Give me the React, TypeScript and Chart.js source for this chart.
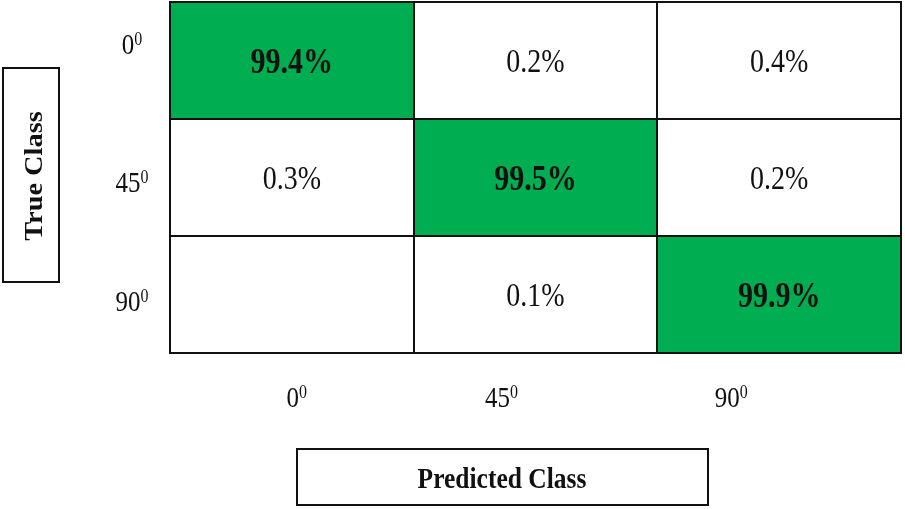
import React, { useEffect, useRef } from 'react';
import { Chart, registerables } from 'chart.js';

Chart.register(...registerables);

// ---- data ----
const predictedClasses = ['0', '45', '90'];
const trueClasses = ['0', '45', '90'];
const row0 = [99.4, 0.2, 0.4];
const row1 = [0.3, 99.5, 0.2];
const row2: (number | null)[] = [null, 0.1, 99.9];
const matrix = [row0, row1, row2];
const xTitle = 'Predicted Class';
const yTitle = 'True Class';

// ---- style ----
const GREEN = '#00AD50';
const INK = '#111111';
const SERIF = '"Liberation Serif", "Times New Roman", serif';
const VSTRETCH = 1.17;
const yLabelNudge = [-7, 14, 16];
const xLabelNudge = [5, -34, -48];

function drawDeg(ctx: CanvasRenderingContext2D, main: string, cx: number, baseline: number) {
  const size = 25;
  const sup = 16;
  ctx.save();
  ctx.translate(cx, baseline);
  ctx.scale(1, VSTRETCH);
  ctx.textBaseline = 'alphabetic';
  ctx.textAlign = 'left';
  ctx.font = `${size}px ${SERIF}`;
  const w1 = ctx.measureText(main).width;
  ctx.font = `${sup}px ${SERIF}`;
  const w2 = ctx.measureText('0').width;
  const start = -(w1 + w2) / 2;
  ctx.font = `${size}px ${SERIF}`;
  ctx.fillText(main, start, 0);
  ctx.font = `${sup}px ${SERIF}`;
  ctx.fillText('0', start + w1, -7.5);
  ctx.restore();
}

const textPlugin = {
  id: 'cmText',
  afterDatasetsDraw(chart: any) {
    const ctx: CanvasRenderingContext2D = chart.ctx;
    const xs = chart.scales.x;
    const ys = chart.scales.y;
    const area = chart.chartArea;
    ctx.save();
    ctx.fillStyle = INK;
    ctx.strokeStyle = INK;
    ctx.lineWidth = 2;

    // cell grid lines
    for (let c = 1; c < predictedClasses.length; c++) {
      const x = Math.round((xs.getPixelForValue(c - 1) + xs.getPixelForValue(c)) / 2);
      ctx.beginPath();
      ctx.moveTo(x, area.top);
      ctx.lineTo(x, area.bottom);
      ctx.stroke();
    }
    for (let r = 1; r < trueClasses.length; r++) {
      const y = Math.round(ys.getPixelForValue(r));
      ctx.beginPath();
      ctx.moveTo(area.left, y);
      ctx.lineTo(area.right, y);
      ctx.stroke();
    }
    // outer frame
    ctx.strokeRect(area.left, area.top, area.right - area.left, area.bottom - area.top);

    // cell values
    matrix.forEach((row, r) => {
      row.forEach((v, c) => {
        if (v === null || v === undefined) return;
        const x = xs.getPixelForValue(c);
        const y = (ys.getPixelForValue(r) + ys.getPixelForValue(r + 1)) / 2 + 3;
        ctx.save();
        ctx.translate(x, y);
        ctx.scale(1, VSTRETCH);
        ctx.textAlign = 'center';
        ctx.textBaseline = 'middle';
        ctx.font = r === c ? `bold 30px ${SERIF}` : `28px ${SERIF}`;
        ctx.fillText(`${v.toFixed(1)}%`, 0, 0);
        ctx.restore();
      });
    });

    // y tick labels
    trueClasses.forEach((lab, r) => {
      const cy = (ys.getPixelForValue(r) + ys.getPixelForValue(r + 1)) / 2;
      drawDeg(ctx, lab, 132, cy + yLabelNudge[r]);
    });
    // x tick labels
    predictedClasses.forEach((lab, c) => {
      const cx = xs.getPixelForValue(c);
      drawDeg(ctx, lab, cx + xLabelNudge[c], area.bottom + 54);
    });

    // Predicted Class box
    ctx.lineWidth = 2;
    ctx.strokeRect(297, 449, 411, 56);
    ctx.save();
    ctx.translate(502, 488);
    ctx.scale(1, VSTRETCH);
    ctx.textAlign = 'center';
    ctx.textBaseline = 'alphabetic';
    ctx.font = `bold 25.5px ${SERIF}`;
    ctx.fillText(xTitle, 0, 0);
    ctx.restore();

    // True Class box
    ctx.strokeRect(3, 68, 56, 214);
    ctx.save();
    ctx.translate(42, 176);
    ctx.rotate(-Math.PI / 2);
    ctx.scale(1.09, 1);
    ctx.textAlign = 'center';
    ctx.textBaseline = 'alphabetic';
    ctx.font = `bold 26px ${SERIF}`;
    ctx.fillText(yTitle, 0, 0);
    ctx.restore();

    ctx.restore();
  },
};

export default function App() {
  const ref = useRef<HTMLCanvasElement | null>(null);
  useEffect(() => {
    if (!ref.current) return;
    const datasets = trueClasses.map((_, r) => ({
      label: trueClasses[r],
      data: predictedClasses.map(() => [r, r + 1] as [number, number]),
      backgroundColor: predictedClasses.map((_, c) => (c === r ? GREEN : '#ffffff')),
      borderWidth: 0,
      grouped: false,
      categoryPercentage: 1,
      barPercentage: 1,
    }));
    const chart = new Chart(ref.current, {
      type: 'bar',
      data: { labels: predictedClasses, datasets: datasets as any },
      options: {
        animation: false,
        responsive: false,
        devicePixelRatio: 1,
        layout: { padding: { left: 170, right: 4, top: 2, bottom: 156 } },
        plugins: { legend: { display: false }, tooltip: { enabled: false } },
        scales: {
          x: { type: 'category', display: false, offset: true },
          y: { type: 'linear', display: false, min: 0, max: 3, reverse: true },
        },
      },
      plugins: [textPlugin],
    });
    return () => chart.destroy();
  }, []);
  return (
    <div style={{ position: 'fixed', left: 0, top: 0, width: 905, height: 509, background: '#fff' }}>
      <canvas ref={ref} width={905} height={509} />
    </div>
  );
}
